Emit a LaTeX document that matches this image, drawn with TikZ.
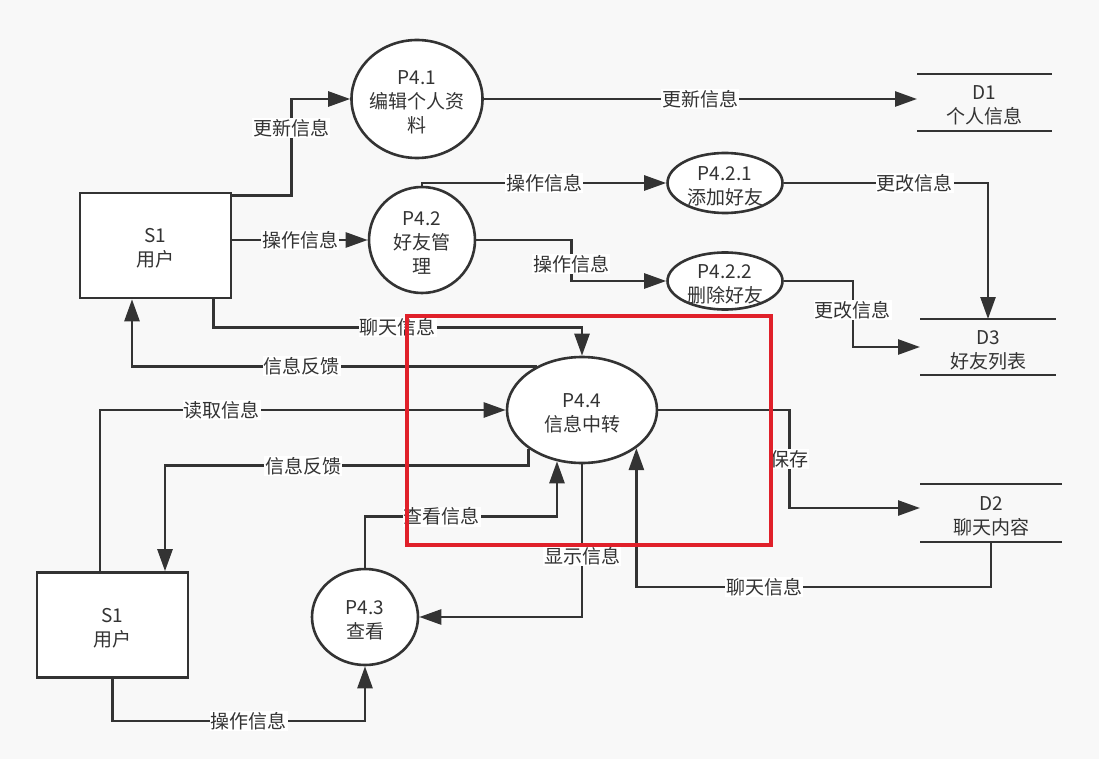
\documentclass[tikz,border=0pt]{standalone}
\usepackage{fontspec}
\setmainfont{Noto Sans CJK SC}
\usetikzlibrary{arrows.meta,shapes.geometric,positioning}
\definecolor{ink}{HTML}{333333}
\definecolor{paper}{HTML}{F8F8F8}
\definecolor{markred}{HTML}{E0202A}

\begin{document}
\begin{tikzpicture}[x=1pt,y=-1pt,line width=2.6pt,
    every node/.style={font=\fontsize{19}{24}\selectfont,text=ink},
    flow/.style={draw=ink,-{Triangle[length=22pt,width=15pt]}},
    lbl/.style={fill=white,inner sep=1pt},
    box/.style={rectangle,draw=ink,fill=white,minimum width=151pt,minimum height=105pt},
    proc/.style={ellipse,draw=ink,fill=white,inner sep=0pt},
    txt/.style={align=center,yshift=-3pt},
    store/.style={minimum width=137pt,minimum height=57pt,outer sep=0pt}]

    \fill[paper] (0,0) rectangle (1099,759);

    \node[box] (s1a) at (155.5,245.5) {};
    \node[txt] (s1at) at (s1a) {S1\\用户};
    \node[box] (s1b) at (112.5,625) {};
    \node[txt] (s1bt) at (s1b) {S1\\用户};

    \node[proc,minimum width=131pt,minimum height=118pt] (p41) at (417,99) {};
    \node[txt] (p41t) at (p41) {P4.1\\编辑个人资\\料};
    \node[proc,minimum width=106pt,minimum height=106pt] (p42) at (422,240) {};
    \node[txt] (p42t) at (p42) {P4.2\\好友管\\理};
    \node[proc,minimum width=115pt,minimum height=60pt] (p421) at (725,183) {};
    \node[txt] (p421t) at (p421) {P4.2.1\\添加好友};
    \node[proc,minimum width=115pt,minimum height=57pt] (p422) at (725,281) {};
    \node[txt] (p422t) at (p422) {P4.2.2\\删除好友};
    \node[proc,minimum width=150pt,minimum height=106pt] (p44) at (582,410) {};
    \node[txt] (p44t) at (p44) {P4.4\\信息中转};
    \node[proc,minimum width=106pt,minimum height=96pt] (p43) at (365,617) {};
    \node[txt] (p43t) at (p43) {P4.3\\查看};

    \node[store,minimum width=135pt] (d1) at (984.5,102.5) {};
    \node[txt] (d1t) at (d1) {D1\\个人信息};
    \node[store,minimum width=136pt,minimum height=56pt] (d3) at (988,347) {};
    \node[txt] (d3t) at (d3) {D3\\好友列表};
    \node[store,minimum width=142pt,minimum height=58pt] (d2) at (991,513) {};
    \node[txt] (d2t) at (d2) {D2\\聊天内容};
    \draw[ink] (d1.north west) -- (d1.north east) (d1.south west) -- (d1.south east);
    \draw[ink] (d3.north west) -- (d3.north east) (d3.south west) -- (d3.south east);
    \draw[ink] (d2.north west) -- (d2.north east) (d2.south west) -- (d2.south east);

    \draw[flow] ([yshift=-4pt]s1a.north east) -- ++(59,0) |- node[lbl,pos=0.35]{更新信息} (p41.west);
    \draw[flow] (s1a.east |- p42) -- node[lbl]{操作信息} (p42);
    \draw[flow] (p41) -- node[lbl]{更新信息} (p41 -| d1.west);
    \draw[flow] (p42.north) |- node[lbl,pos=0.75]{操作信息} (p421.west);
    \draw[flow] (p421.east) -| node[lbl,pos=0.32]{更改信息} (d3.north);
    \draw[flow] (p42.east) -- ++(95,0) |- node[lbl,pos=0.29]{操作信息} (p422.west);
    \draw[flow] (p422.east) -- ++(69,0) |- node[lbl,pos=0.22]{更改信息} (d3.west);
    \draw[flow] ([xshift=58pt]s1a.south) -- ++(0,28) -| node[lbl,pos=0.25]{聊天信息} (p44.north);
    \draw[flow] (p44.136) -| node[lbl,pos=0.29]{信息反馈} ([xshift=-23.5pt]s1a.south);
    \draw[flow] ([xshift=-12.5pt]s1b.north) |- node[lbl,pos=0.65]{读取信息} (p44.west);
    \draw[flow] (p44.216) -- ++(0,17) -| node[lbl,pos=0.31]{信息反馈} ([xshift=52.5pt]s1b.north);
    \draw[flow] (p43.north) -- ++(0,-51) -| node[lbl,pos=0.2]{查看信息} (p44.244);
    \draw[flow] (p44.south) |- node[lbl,pos=0.3]{显示信息} (p43.east);
    \draw[flow] (d2.south) -- ++(0,45) -| node[lbl,pos=0.32]{聊天信息} (p44.325.6);
    \draw[flow] (p44.east) -- ++(131,0) |- node[lbl,pos=0.25]{保存} ([yshift=5pt]d2.west);
    \draw[flow] (s1b.south) -- ++(0,42) -| node[lbl,pos=0.27]{操作信息} (p43.south);

    \draw[markred,line width=3.5pt] (407,316) rectangle (771,545);
\end{tikzpicture}
\end{document}
